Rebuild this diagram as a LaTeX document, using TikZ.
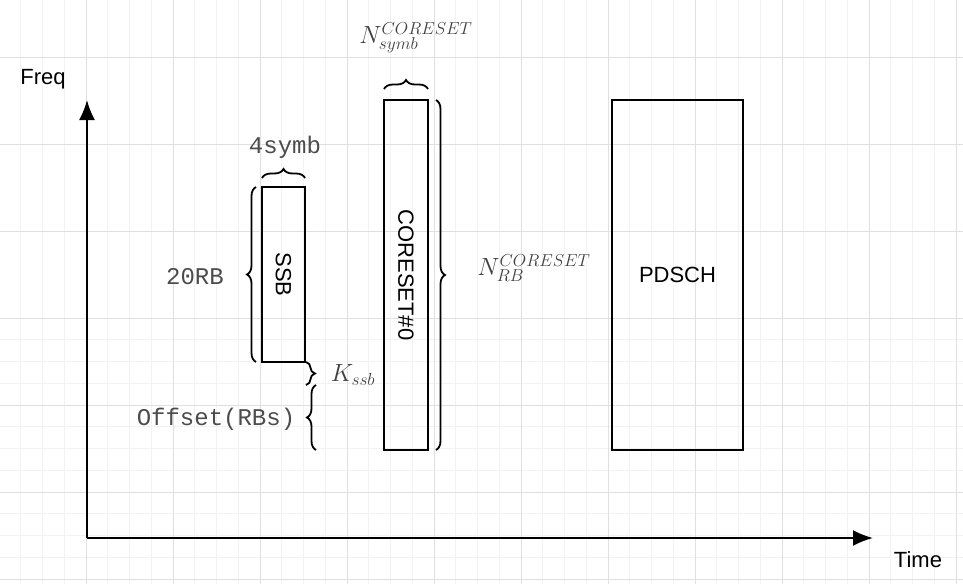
\documentclass[tikz,border=0pt]{standalone}
\usepackage{fontspec}
\setsansfont{Liberation Sans}
\setmonofont{Liberation Mono}
\usetikzlibrary{decorations.pathreplacing,arrows.meta}
\begin{document}
\begin{tikzpicture}[x=1pt,y=-1pt,
  box/.style={draw,line width=2pt},
  br/.style={decorate,decoration={brace,amplitude=9pt},line width=1.8pt},
  lbl/.style={text=black!70,font=\ttfamily\fontsize{24}{24}\selectfont},
  mlbl/.style={text=black!75,font=\fontsize{27}{27}\selectfont},
  sf/.style={font=\sffamily\fontsize{22}{22}\selectfont}]
\useasboundingbox (0,0) rectangle (963,584);
\fill[white] (0,0) rectangle (963,584);
\foreach \i in {-3,...,40} {\draw[black!5,line width=0.8pt] (86+21.75*\i,0) -- (86+21.75*\i,584);}
\foreach \i in {-3,...,28} {\draw[black!5,line width=0.8pt] (0,405+21.75*\i) -- (963,405+21.75*\i);}
\foreach \i in {-1,...,10} {\draw[black!12,line width=0.8pt] (86+87*\i,0) -- (86+87*\i,584);}
\foreach \i in {-5,...,3} {\draw[black!12,line width=0.8pt] (0,405+87*\i) -- (963,405+87*\i);}
\coordinate (o) at (87,538);
\coordinate (ytop) at (87,100);
\coordinate (xend) at (873,538);
\draw[line width=2pt,-{Latex[length=20pt,width=16pt]}] (o) -- (ytop);
\draw[line width=2pt,-{Latex[length=20pt,width=16pt]}] (o) -- (xend);
\node[sf] (freq) at (43,79) {Freq};
\node[sf] (time) at (918,560) {Time};
\node[box,minimum width=43pt,minimum height=175pt] (ssb) at (283.5,274.5) {};
\node[sf,rotate=-90] at (ssb) {SSB};
\node[box,minimum width=44pt,minimum height=350pt] (cs) at (406,275) {};
\node[sf,rotate=-90] at (cs) {CORESET\#0};
\node[box,minimum width=131pt,minimum height=350pt] (pd) at (677.5,275) {};
\node[sf] at (pd) {PDSCH};
\draw[br] (262,178) -- (305,178);
\node[lbl] at (285,147) {4symb};
\draw[br] (256,362) -- (256,187);
\node[lbl] at (195,277) {20RB};
\draw[br] (306,362) -- (306,385);
\node[mlbl] at (353,375) {$K_{ssb}$};
\draw[br] (316,450) -- (316,385);
\node[lbl] at (216,419) {Offset(RBs)};
\draw[br] (384,89) -- (428,89);
\node[mlbl] at (416,38) {$N_{symb}^{CORESET}$};
\draw[br] (436,100) -- (436,450);
\node[mlbl] at (534,268) {$N_{RB}^{CORESET}$};
\end{tikzpicture}
\end{document}
